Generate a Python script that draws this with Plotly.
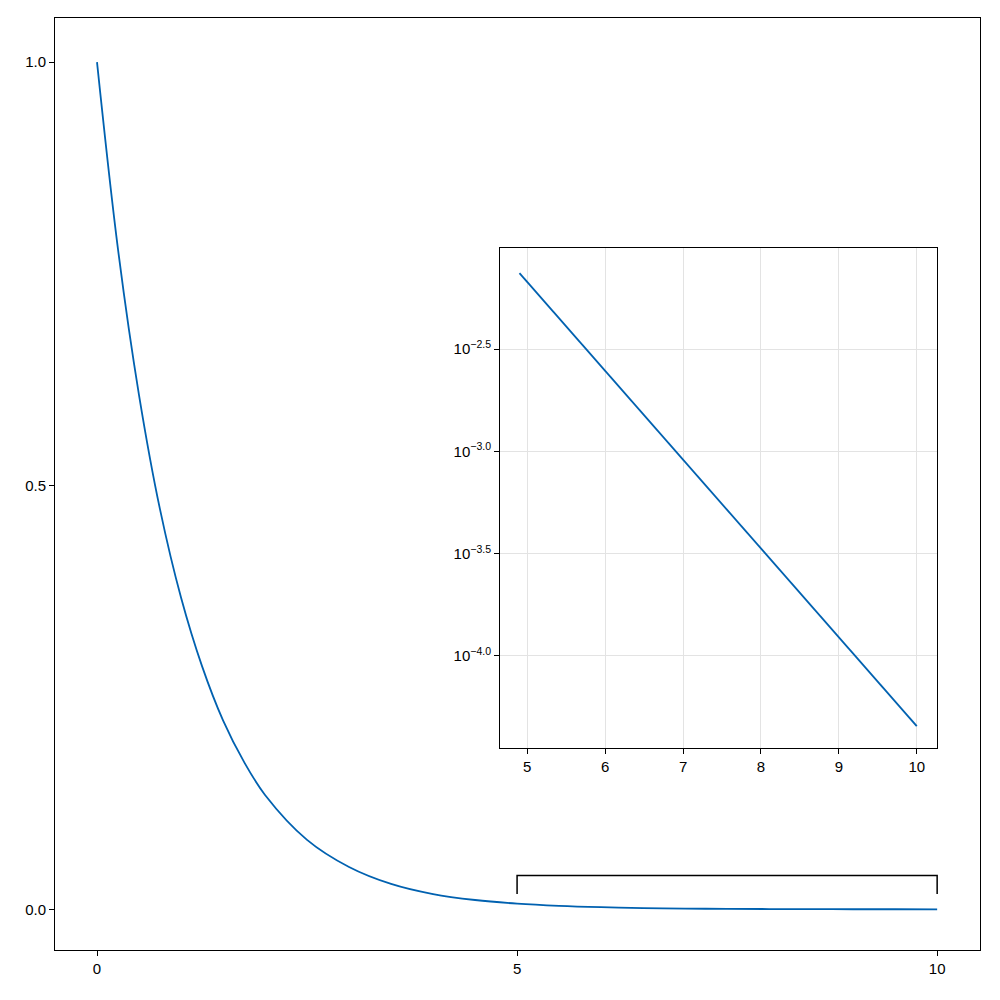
import numpy as np
import plotly.graph_objects as go

# values
x_main = [0, 0.25, 0.5, 0.75, 1, 1.25, 1.5, 1.75, 2, 2.5, 3, 3.5, 4, 4.5, 5, 5.5, 6, 6.5, 7, 7.5, 8, 8.5, 9, 9.5, 10]
y_main = [1.0, 0.779, 0.607, 0.472, 0.368, 0.287, 0.223, 0.174, 0.135, 0.082, 0.050, 0.030, 0.018,
          0.011, 0.0067, 0.0041, 0.0025, 0.0015, 0.0009, 0.00055, 0.00034, 0.0002, 0.00012, 0.00007, 0.000045]
x_inset = [4.9, 6, 7, 8, 9, 10]
y_inset = [0.00745, 0.00248, 0.000912, 0.000335, 0.000123, 0.0000454]
inset_ticks = [10**-2.5, 10**-3.0, 10**-3.5, 10**-4.0]
inset_labels = ["10<sup>−2.5</sup>", "10<sup>−3.0</sup>", "10<sup>−3.5</sup>", "10<sup>−4.0</sup>"]

blue = "#0061b0"
fig = go.Figure()
fig.add_trace(go.Scatter(x=x_main, y=y_main, mode="lines", line=dict(color=blue, width=1.8, shape="spline"),
                         xaxis="x", yaxis="y"))
fig.add_trace(go.Scatter(x=x_inset, y=y_inset, mode="lines", line=dict(color=blue, width=1.8),
                         xaxis="x2", yaxis="y2"))

# bracket marking the zoomed region
fig.add_shape(type="path", path="M 5,0.018 L 5,0.040 L 10,0.040 L 10,0.018",
              xref="x", yref="y", line=dict(color="black", width=1.5))

ax = dict(showline=True, linecolor="black", linewidth=1, mirror=True, ticks="outside",
          ticklen=5, tickcolor="black", zeroline=False)
fig.update_layout(
    width=1000, height=1000, showlegend=False,
    margin=dict(l=0, r=0, t=0, b=0),
    paper_bgcolor="white", plot_bgcolor="white",
    font=dict(family="Liberation Sans, Arial", size=15, color="black"),
    xaxis=dict(ax, domain=[0.047, 0.972], range=[-0.5, 10.51], tickvals=[0, 5, 10], showgrid=False),
    yaxis=dict(ax, domain=[0.058, 0.99], range=[-0.048, 1.052], tickvals=[0, 0.5, 1.0],
               ticktext=["0.0", "0.5", "1.0"], showgrid=False),
    xaxis2=dict(ax, domain=[0.492, 0.929], range=[4.65, 10.26], anchor="y2", tickvals=[5, 6, 7, 8, 9, 10],
                showgrid=True, gridcolor="#e3e3e3"),
    yaxis2=dict(ax, domain=[0.26, 0.76], type="log", range=[-4.45, -2.005], anchor="x2",
                tickvals=inset_ticks, ticktext=inset_labels, showgrid=True, gridcolor="#e3e3e3"),
)
fig.add_shape(type="rect", xref="x2 domain", yref="y2 domain", x0=0, x1=1, y0=0, y1=1,
              fillcolor="white", line=dict(width=0), layer="below")

fig.write_html("out.html")
